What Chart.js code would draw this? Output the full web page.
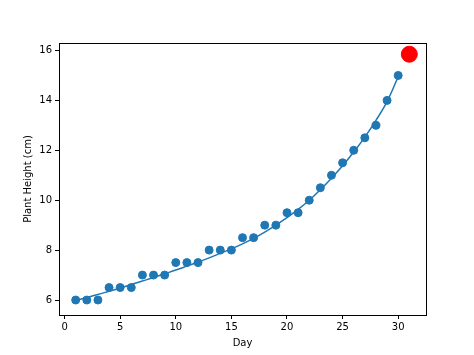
<!DOCTYPE html>
<html>
<head>
<meta charset="utf-8">
<script src="https://cdn.jsdelivr.net/npm/chart.js@4"></script>
<style>
  html, body { margin: 0; padding: 0; background: #fff; }
  #wrap { width: 474px; height: 355px; }
</style>
</head>
<body>
<div id="wrap"><canvas id="growthChart" width="474" height="355"></canvas></div>
<script>
// measured heights
const days = [1, 2, 3, 4, 5, 6, 7, 8, 9, 10, 11, 12, 13, 14, 15, 16, 17, 18, 19, 20, 21, 22, 23, 24, 25, 26, 27, 28, 29, 30];
const heights = [6, 6, 6, 6.5, 6.5, 6.5, 7, 7, 7, 7.5, 7.5, 7.5, 8, 8, 8, 8.5, 8.5, 9, 9, 9.5, 9.5, 10, 10.5, 11, 11.5, 12, 12.5, 13, 14, 15];
// fitted curve
const fitHeights = [5.98, 6.1, 6.22, 6.35, 6.48, 6.62, 6.76, 6.9, 7.05, 7.2, 7.36, 7.52, 7.69, 7.87, 8.05, 8.25, 8.47, 8.72, 9.0, 9.3, 9.63, 10.0, 10.42, 10.88, 11.38, 11.93, 12.53, 13.2, 13.95, 14.95];
// predicted next day
const predDay = [31];
const predHeight = [15.85];

const xTicks = [0, 5, 10, 15, 20, 25, 30];
const yTicks = [6, 8, 10, 12, 14, 16];

const frameBox = {
    id: 'frameBox',
    afterDatasetsDraw(chart) {
        const { ctx, chartArea: a } = chart;
        ctx.save();
        ctx.strokeStyle = '#000';
        ctx.lineWidth = 1;
        ctx.strokeRect(a.left + 0.5, a.top + 0.5, a.right - a.left, a.bottom - a.top);
        ctx.restore();
    }
};

const tickFont = { family: 'DejaVu Sans', size: 10 };

new Chart(document.getElementById('growthChart'), {
    type: 'scatter',
    data: {
        datasets: [
            {
                type: 'line',
                data: days.map((d, i) => ({ x: d, y: fitHeights[i] })),
                borderColor: '#1f77b4',
                borderWidth: 1.5,
                pointRadius: 0,
                fill: false,
                cubicInterpolationMode: 'monotone',
                order: 2
            },
            {
                data: days.map((d, i) => ({ x: d, y: heights[i] })),
                backgroundColor: '#1f77b4',
                borderColor: '#1f77b4',
                pointRadius: 4,
                order: 1
            },
            {
                data: predDay.map((d, i) => ({ x: d, y: predHeight[i] })),
                backgroundColor: '#ff0000',
                borderColor: '#ff0000',
                pointRadius: 8,
                order: 0
            }
        ]
    },
    plugins: [frameBox],
    options: {
        responsive: false,
        animation: false,
        layout: { padding: { left: 22, top: 43, right: 48, bottom: 0 } },
        plugins: {
            legend: { display: false },
            tooltip: { enabled: false }
        },
        scales: {
            x: {
                type: 'linear',
                min: -0.5,
                max: 32.5,
                afterBuildTicks(scale) { scale.ticks = xTicks.map(v => ({ value: v })); },
                afterFit(scale) { scale.height = 40; },
                grid: { drawOnChartArea: false, drawTicks: true, tickLength: 4, color: '#000' },
                border: { display: true, color: '#000' },
                ticks: { color: '#000', font: tickFont, padding: 2, maxRotation: 0 },
                title: { display: true, text: 'Day', color: '#000', font: tickFont, padding: { top: 0, bottom: 6 } }
            },
            y: {
                type: 'linear',
                min: 5.4,
                max: 16.3,
                afterBuildTicks(scale) { scale.ticks = yTicks.map(v => ({ value: v })); },
                afterFit(scale) { scale.width = 37; },
                grid: { drawOnChartArea: false, drawTicks: true, tickLength: 4, color: '#000' },
                border: { display: true, color: '#000' },
                ticks: { color: '#000', font: tickFont, padding: 3 },
                title: { display: true, text: 'Plant Height (cm)', color: '#000', font: tickFont, padding: { top: 0, bottom: 0 } }
            }
        }
    }
});
</script>
</body>
</html>
